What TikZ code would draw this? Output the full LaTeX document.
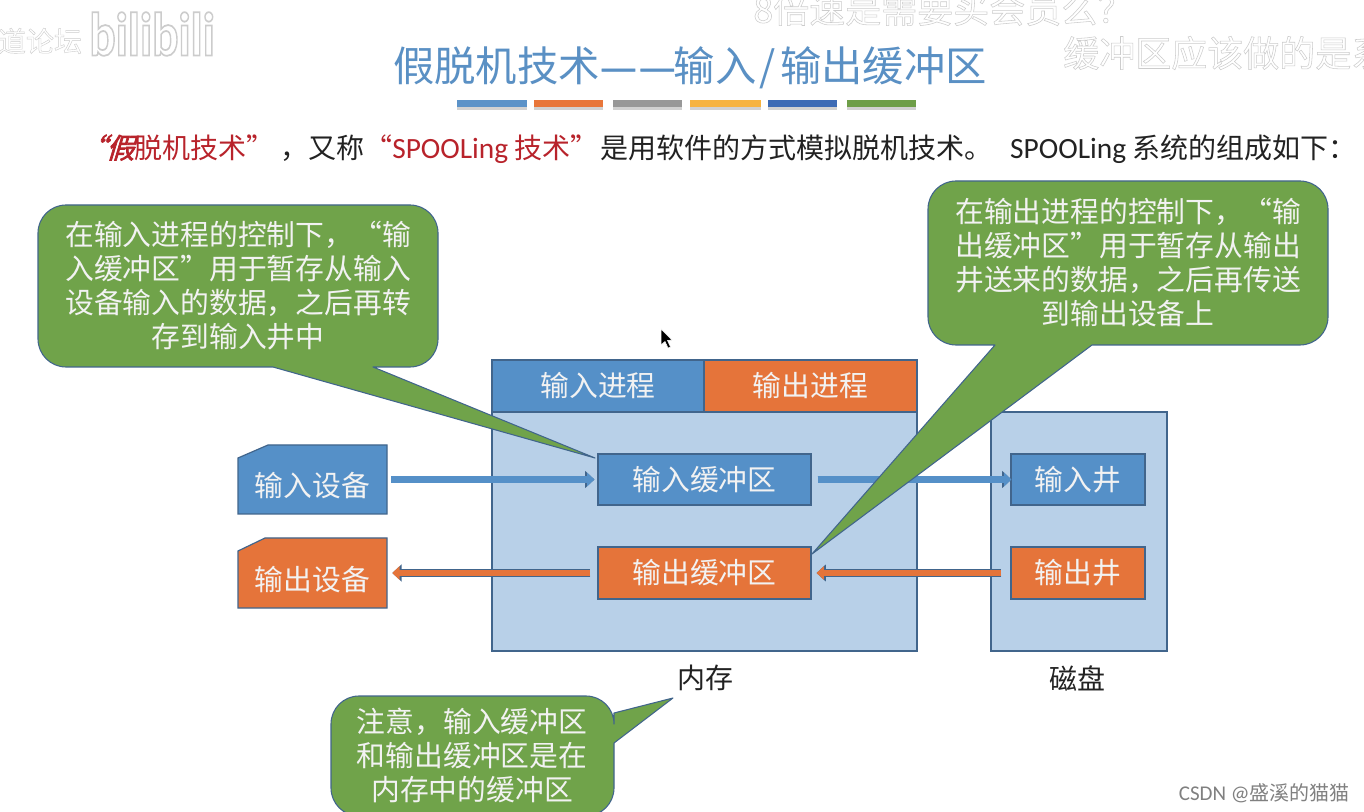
\documentclass[tikz,border=0pt]{standalone}
\usepackage{fontspec}
\setmainfont{Noto Sans CJK SC}
\newfontfamily\latinf[Scale=1.05]{Carlito}
\newfontfamily\slantf[FakeSlant=0.3,FakeBold=2.5]{Noto Sans CJK SC}
\newfontfamily\wmf[FakeBold=1.5]{Noto Sans CJK SC}
\usetikzlibrary{arrows.meta}
\definecolor{blueF}{HTML}{5590C8}
\definecolor{orangeF}{HTML}{E5743A}
\definecolor{paleF}{HTML}{B8D0E8}
\definecolor{greenF}{HTML}{70A34A}
\definecolor{lineC}{HTML}{41658C}
\definecolor{titleC}{HTML}{5A90C4}
\definecolor{redT}{HTML}{B8232B}
\definecolor{blackT}{HTML}{222222}
\definecolor{textW}{HTML}{F2F2F2}
\newcommand{\outlined}[1]{\special{pdf:code 2 Tr 1.3 w 0.80 0.80 0.80 RG 1 1 1 rg}#1\special{pdf:code 0 Tr}}
\tikzset{
  x=0.75pt,y=-0.75pt,
  sz/.code 2 args={\pgfkeysalso{minimum width=#1*0.75pt,minimum height=#2*0.75pt}},
  boxb/.style={draw=lineC,line width=0.9pt,fill=blueF,inner sep=0pt,text=textW,font=\fontsize{21.6}{25}\selectfont},
  boxo/.style={draw=lineC,line width=0.9pt,fill=orangeF,inner sep=0pt,text=textW,font=\fontsize{21.6}{25}\selectfont},
  boxp/.style={draw=lineC,line width=0.9pt,fill=paleF,inner sep=0pt},
  devlabel/.style={inner sep=0pt,text=textW,font=\fontsize{21.6}{25}\selectfont},
  calloutshape/.style={draw=lineC,line width=0.8pt,fill=greenF,line join=round},
  callouttext/.style={align=center,inner sep=0pt,text=textW,font=\fontsize{21.6}{25.5}\selectfont},
  caption/.style={inner sep=0pt,text=blackT,font=\fontsize{21}{25}\selectfont},
  blockblue/.style={line width=4.6pt,draw=blueF,shorten <=4*0.75pt,shorten >=3*0.75pt,
    preaction={draw=lineC,line width=5.6pt,-{Triangle[length=7pt,width=12.5pt]}},
    -{Triangle[length=5.5pt,width=10pt,color=blueF]}},
  blockorange/.style={line width=4.6pt,draw=orangeF,shorten <=7*0.75pt,shorten >=5*0.75pt,
    preaction={draw=lineC,line width=5.6pt,-{Triangle[length=7pt,width=12.5pt]}},
    -{Triangle[length=5.5pt,width=10pt,color=orangeF]}},
  barshadow/.style={fill=black,opacity=0.18},
}
\begin{document}
\begin{tikzpicture}
\useasboundingbox (0,0) rectangle (1364,812);
\fill[white] (0,0) rectangle (1364,812);

% watermark
\begin{scope}
\clip (0,0) rectangle (1364,812);
\node[anchor=center,inner sep=0pt,font=\fontsize{21}{25}\wmf] (wmA) at (40,41) {\outlined{道论坛}};
\node[anchor=center,inner sep=0pt,xscale=0.8,font=\fontsize{44}{48}\latinf\bfseries] (wmB) at (152,34) {\outlined{bilibili}};
\node[anchor=west,inner sep=0pt,font=\fontsize{27}{30}\wmf] (wmC1) at (753,9) {\outlined{8倍速是需要买会员么？}};
\node[anchor=west,inner sep=0pt,font=\fontsize{27}{32}\wmf] (wmC2) at (1063,53) {\outlined{缓冲区应该做的是系}};
\end{scope}

% title
\node[inner sep=0pt,text=titleC,font=\fontsize{31}{36}\selectfont] (title) at (690,68) {假脱机技术{\wmf —\kern1.5pt—}\kern-1.5pt 输入\kern2.5pt/\kern3pt 输出缓冲区};
\foreach \a/\b/\c in {457/527/5B92C8,534/603/E8763A,613/682/989898,690/761/F6B340,768/837/3D6BB5,847/916/6E9E48}{
  \fill[barshadow] (\a,103) rectangle (\b,110);
  \definecolor{barC}{HTML}{\c}
  \fill[barC] (\a,100) rectangle (\b,107);
}

% intro line
\node[anchor=west,inner sep=0pt,text=blackT,font=\fontsize{21}{24}\selectfont] (intro) at (78,149)
 {\textcolor{redT}{{\slantf “假}脱机技术”}\kern4.5pt，又称\textcolor{redT}{“{\latinf SPOOLing }技术”}\kern1.5pt 是用软件的方式模拟脱机技术。\kern8pt{\latinf\ SPOOLing }系统的组成如下：};

% memory and disk
\node[boxp,sz={425}{239}] (mem) at (704.5,531.5) {};
\node[boxp,sz={176}{239}] (disk) at (1079,531.5) {};
\node[boxb,sz={212}{52}] (inproc) at (598,386) {输入进程};
\node[boxo,sz={213}{52}] (outproc) at (810.5,386) {输出进程};
\node[boxb,sz={213}{51}] (inbuf) at (704.5,479.5) {输入缓冲区};
\node[boxo,sz={213}{52}] (outbuf) at (704.5,573) {输出缓冲区};
\node[boxb,sz={134}{51}] (inwell) at (1078,479.5) {输入井};
\node[boxo,sz={134}{52}] (outwell) at (1078,573) {输出井};

% devices
\draw[draw=lineC,line width=0.9pt,fill=blueF] (238,458) -- (268,445) -- (387,445) -- (387,514) -- (238,514) -- cycle;
\draw[draw=lineC,line width=0.9pt,fill=orangeF] (238,551) -- (265,538) -- (387,538) -- (387,608) -- (238,608) -- cycle;
\node[devlabel,sz={149}{69}] (indev) at (312.5,479.5) {\raisebox{-12.5pt}[0pt][0pt]{输入设备}};
\node[devlabel,sz={149}{70}] (outdev) at (312.5,573) {\raisebox{-13pt}[0pt][0pt]{输出设备}};

% arrows
\draw[blockblue] (indev.east) -- (inbuf.west);
\draw[blockblue,shorten <=6*0.75pt,shorten >=-1*0.75pt] (inbuf.east) -- (inwell.west);
\draw[blockorange] (outbuf.west) -- (outdev.east);
\draw[blockorange,shorten <=9*0.75pt] (outwell.west) -- (outbuf.east);

% labels
\node[caption] (memlabel) at (705,678) {内存};
\node[caption] (disklabel) at (1077,678) {磁盘};

% callouts
\draw[calloutshape] (66,205) -- (410,205) arc[start angle=-90,end angle=0,radius=28] -- (438,339)
  arc[start angle=0,end angle=90,radius=28] -- (373,367) -- (595,458) -- (273,367) -- (66,367)
  arc[start angle=90,end angle=180,radius=28] -- (38,233) arc[start angle=180,end angle=270,radius=28] -- cycle;
\node[callouttext] (noteA) at (238,286) {在输入进程的控制下，“输\\入缓冲区”用于暂存从输入\\设备输入的数据，之后再转\\存到输入井中};

\draw[calloutshape] (956,181) -- (1300,181) arc[start angle=-90,end angle=0,radius=28] -- (1328,317)
  arc[start angle=0,end angle=90,radius=28] -- (1092,345) -- (812,554) -- (995,345) -- (956,345)
  arc[start angle=90,end angle=180,radius=28] -- (928,209) arc[start angle=180,end angle=270,radius=28] -- cycle;
\node[callouttext] (noteB) at (1128,263) {在输出进程的控制下，“输\\出缓冲区”用于暂存从输出\\井送来的数据，之后再传送\\到输出设备上};

\begin{scope}
\clip (0,0) rectangle (1364,812);
\draw[calloutshape] (359,696) -- (586,696) arc[start angle=-90,end angle=0,radius=28] -- (614,713)
  -- (673,698) -- (614,743) -- (614,788) arc[start angle=0,end angle=90,radius=28] -- (359,816)
  arc[start angle=90,end angle=180,radius=28] -- (331,724) arc[start angle=180,end angle=270,radius=28] -- cycle;
\end{scope}
\node[callouttext] (noteC) at (472,755) {注意，输入缓冲区\\和输出缓冲区是在\\内存中的缓冲区};

% pointer
\draw[fill=black,draw=white,line width=0.4pt] (661,329) -- (661,345) -- (665,341.5) -- (668,348) -- (670.5,347) -- (667.5,340.5) -- (672,340) -- cycle;

% credit
\node[anchor=east,inner sep=0pt,text=gray,font=\fontsize{15}{18}\selectfont] (credit) at (1350,793) {{\latinf CSDN @}盛溪的猫猫};
\end{tikzpicture}
\end{document}
